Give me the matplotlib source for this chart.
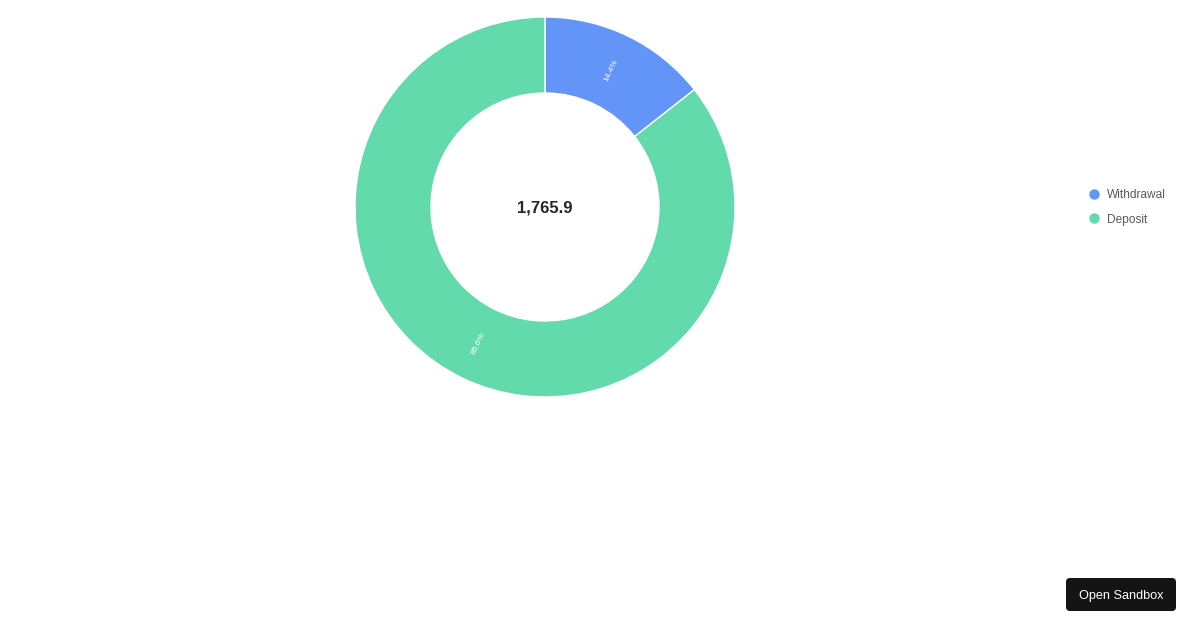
import matplotlib
matplotlib.use("Agg")
import matplotlib.pyplot as plt
from matplotlib.patches import FancyBboxPatch
import numpy as np

categories = ["Withdrawal", "Deposit"]
values = [254.3, 1511.6]
colors = ["#6395F9", "#62DAAB"]
total_label = "1,765.9"

W, H = 1200, 630
fig = plt.figure(figsize=(W / 100, H / 100), dpi=100)
plt.rcParams['font.family'] = ['Liberation Sans', 'DejaVu Sans']

cx, cy, R = 545, 207, 190
ax = fig.add_axes([(cx - R) / W, (H - cy - R) / H, 2 * R / W, 2 * R / H])
inner = 114 / 190
wedges, _ = ax.pie(values, colors=colors, startangle=90, counterclock=False, radius=1,
                   wedgeprops=dict(width=1 - inner, edgecolor="white", linewidth=1))
ax.set_xlim(-1, 1)
ax.set_ylim(-1, 1)
ax.set_aspect("equal")
ax.axis("off")

tot = sum(values)
start = 90.0
rl = (1 + inner) / 2
for v in values:
    sweep = v / tot * 360
    mid = start - sweep / 2
    th = np.deg2rad(mid)
    x, y = rl * np.cos(th), rl * np.sin(th)
    rot = mid
    if rot < -90:
        rot += 180
    if rot > 90:
        rot -= 180
    ax.text(x, y, f"{v / tot * 100:.1f}%", ha="center", va="center", rotation=rot,
            rotation_mode="anchor", fontsize=6, color="white")
    start -= sweep

ax.text(0, -0.005, total_label, ha="center", va="center", fontsize=12, fontweight="bold", color="#262626")

# legend in figure pixel coords
lax = fig.add_axes([0, 0, 1, 1])
lax.set_xlim(0, W)
lax.set_ylim(H, 0)
lax.axis("off")
for i, (c, lab) in enumerate(zip(colors, categories)):
    yy = 194 + 24 * i
    lax.plot([1094], [yy], "o", color=c, markersize=6.5)
    lax.text(1107, yy + 1.5, lab, ha="left", va="center", fontsize=8.6, color="#595959")

# Open Sandbox button
btn = FancyBboxPatch((1066, 578), 110, 33, boxstyle="round,pad=0,rounding_size=4",
                     facecolor="#141414", edgecolor="none")
lax.add_patch(btn)
lax.text(1121, 595.5, "Open Sandbox", ha="center", va="center", fontsize=9.1, color="white")

fig.savefig("out.png", dpi=100)
